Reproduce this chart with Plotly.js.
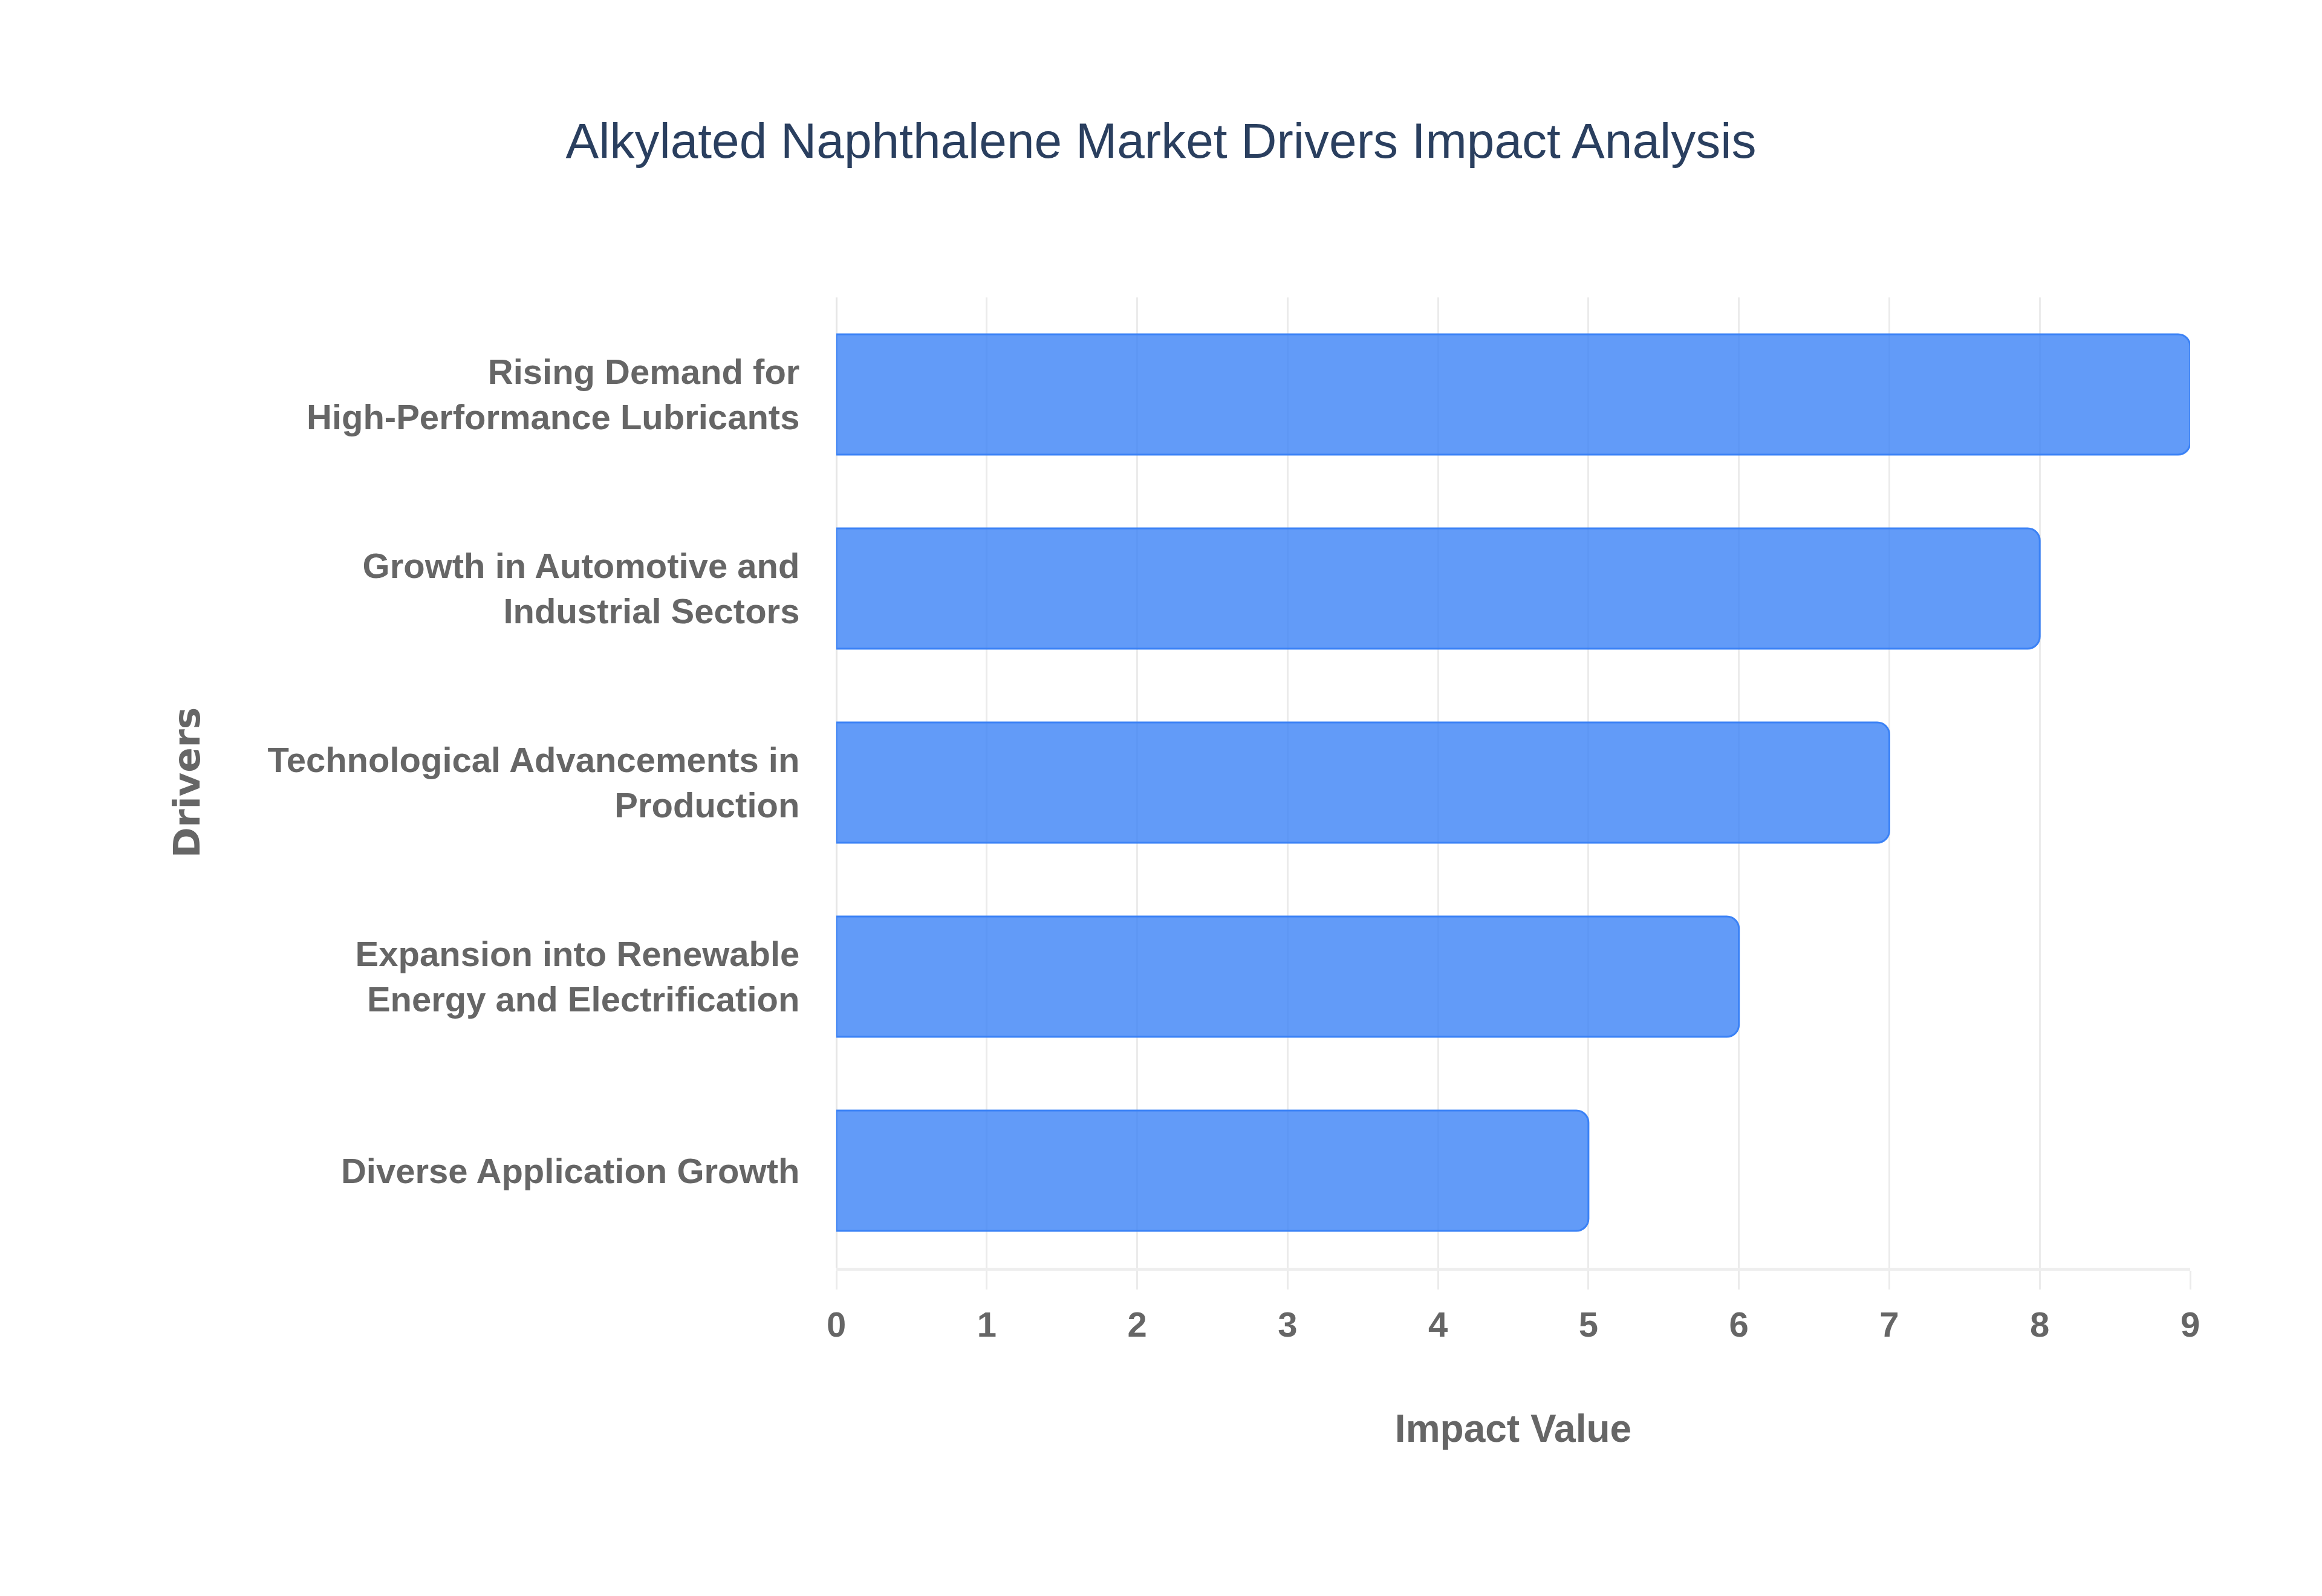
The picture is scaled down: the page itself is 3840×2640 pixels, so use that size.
<!DOCTYPE html>
<html>
<head>
<meta charset="utf-8">
<script src="https://cdn.plot.ly/plotly-3.0.1.min.js"></script>
<style>
    html, body { margin: 0; padding: 0; background: #ffffff; }
    #chart { width: 3840px; height: 2640px; }
</style>
</head>
<body>
<div id="chart"></div>
<script>
// data, top bar first
const drivers = [
    "Rising Demand for<br>High-Performance Lubricants",
    "Growth in Automotive and<br>Industrial Sectors",
    "Technological Advancements in<br>Production",
    "Expansion into Renewable<br>Energy and Electrification",
    "Diverse Application Growth"
]
const impactValues = [9, 8, 7, 6, 5]
const xTicks = [0, 1, 2, 3, 4, 5, 6, 7, 8, 9]

const labelFont = {
    family: "Liberation Sans, Arial, sans-serif",
    size: 58,
    color: "#666666",
    weight: "bold"
}

let plotData = [{
    type: "bar",
    orientation: "h",
    x: impactValues,
    y: drivers,
    marker: {
        color: "rgba(59, 130, 246, 0.8)",
        line: { color: "rgb(59, 130, 246)", width: 3 }
    },
    hoverinfo: "x+y"
}]

let plotLayout = {
    width: 3840,
    height: 2640,
    paper_bgcolor: "#ffffff",
    plot_bgcolor: "#ffffff",
    margin: { l: 1383, r: 218, t: 492, b: 543 },
    title: {
        text: "Alkylated Naphthalene Market Drivers Impact Analysis",
        font: { family: "Liberation Sans, Arial, sans-serif", size: 82, color: "#2a3f5f" },
        x: 0.5,
        xanchor: "center",
        y: 1 - 232 / 2640,
        yanchor: "middle"
    },
    bargap: 0.38,
    barcornerradius: 20,
    showlegend: false,
    xaxis: {
        range: [0, 9],
        tickvals: xTicks,
        ticktext: xTicks.map(String),
        tickfont: labelFont,
        showgrid: true,
        gridcolor: "#ebebeb",
        gridwidth: 3,
        zeroline: true,
        zerolinecolor: "#e6e6e6",
        zerolinewidth: 3,
        showline: true,
        linecolor: "#eeeeee",
        linewidth: 5,
        ticks: "outside",
        ticklen: 31,
        tickwidth: 3,
        tickcolor: "#ebebeb",
        ticklabelstandoff: 8,
        title: {
            text: "Impact Value",
            font: { family: "Liberation Sans, Arial, sans-serif", size: 64, color: "#666666", weight: "bold" },
            standoff: 120
        }
    },
    yaxis: {
        autorange: "reversed",
        tickfont: labelFont,
        showgrid: false,
        zeroline: false,
        showline: false,
        ticks: "outside",
        ticklen: 48,
        tickcolor: "rgba(0, 0, 0, 0)",
        title: {
            text: "Drivers",
            font: { family: "DejaVu Sans, sans-serif", size: 61, color: "#666666", weight: "bold" },
            standoff: 92
        }
    }
}

let plotConfig = { displayModeBar: false, responsive: false }

Plotly.newPlot("chart", plotData, plotLayout, plotConfig)
</script>
</body>
</html>
